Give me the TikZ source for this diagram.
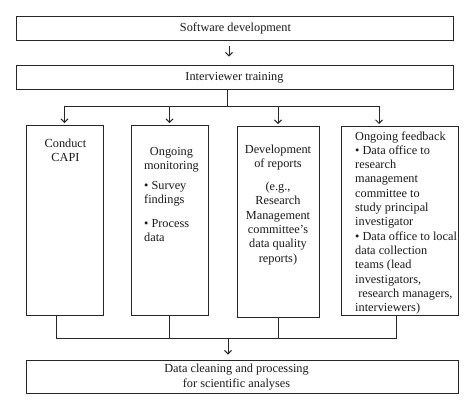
\documentclass[tikz,border=0pt]{standalone}
\usepackage{fontspec}
\setmainfont{Liberation Serif}
\usetikzlibrary{arrows.meta}
\begin{document}
\begin{tikzpicture}[x=1pt,y=-1pt,
  box/.style={draw=black!85, line width=1pt, rectangle, inner sep=0pt},
  ln/.style={draw=black!85, line width=1pt},
  arr/.style={ln, -{Straight Barb[length=3.5pt,width=7pt]}},
  txt/.style={inner sep=0pt, anchor=base, text=black!90, font=\fontsize{12.3}{14.3}\selectfont}]
\useasboundingbox (0,0) rectangle (474,410);
% boxes
\node[box, minimum width=437pt, minimum height=24pt] (sw) at (234.5,28) {};
\node[box, minimum width=437pt, minimum height=24pt] (it) at (234.5,77) {};
\node[box, minimum width=77pt, minimum height=190pt] (b1) at (64.5,220) {};
\node[box, minimum width=77pt, minimum height=190pt] (b2) at (169.5,220) {};
\node[box, minimum width=82pt, minimum height=191pt] (b3) at (278,221.5) {};
\node[box, minimum width=117pt, minimum height=189pt] (b4) at (399.5,220.5) {};
\node[box, minimum width=432pt, minimum height=33pt] (dc) at (242,376.5) {};
% texts
\node[txt] (tsw) at (235.5,31.5) {Software development};
\node[txt] (tit) at (234.5,80) {Interviewer training};
\node[txt] (t1) at (65.5,147) {\begin{tabular}[t]{@{}c@{}}Conduct\\CAPI\end{tabular}};
\node[txt] (t2) at (171.5,155) {\begin{tabular}[t]{@{}l@{}}\multicolumn{1}{@{}c@{}}{Ongoing}\\monitoring\\[6pt]• Survey\\findings\\[9pt]• Process\\data\end{tabular}};
\node[txt] (t3) at (278,153) {\begin{tabular}[t]{@{}c@{}}Development\\of reports\\[9pt](e.g.,\\Research\\Management\\committee’s\\data quality\\reports)\end{tabular}};
\node[txt, anchor=base west] (t4) at (355,140) {\begin{tabular}[t]{@{}l@{}}Ongoing feedback\\• Data office to\\research\\management\\committee to\\study principal\\investigator\\• Data office to local\\data collection\\teams (lead\\investigators,\\\ research managers,\\interviewers)\end{tabular}};
\node[txt] (tdc) at (236.5,372.7) {\begin{tabular}[t]{@{}c@{}}Data cleaning and processing\\for scientific analyses\end{tabular}};
% connectors
\draw[arr, shorten <=5pt, shorten >=8pt] ([xshift=-5.5pt]sw.south) -- ([xshift=-5.5pt]it.north);
\coordinate (bus) at (227,106);
\coordinate (itout) at ([xshift=-7.5pt]it.south);
\coordinate (b4in) at ([xshift=-20.5pt]b4.north);
\draw[ln] (itout) -- (bus);
\draw[ln] (b1.north |- bus) -- (b4in |- bus);
\draw[arr, shorten >=1.5pt] (b1.north |- bus) -- (b1.north);
\draw[arr, shorten >=1.5pt] (b2.north |- bus) -- (b2.north);
\draw[arr, shorten >=1.5pt] (b3.north |- bus) -- (b3.north);
\draw[arr, shorten >=1.5pt] (b4in |- bus) -- (b4in);
\coordinate (bbus) at (228,338);
\coordinate (b1o) at ([xshift=-8.5pt]b1.south);
\coordinate (b4o) at ([xshift=-3.5pt]b4.south);
\draw[ln] (b1o) -- (b1o |- bbus) -- (b4o |- bbus) -- (b4o);
\draw[ln] (b2.south) -- (b2.south |- bbus);
\draw[ln] (b3.south) -- (b3.south |- bbus);
\draw[arr, shorten >=5pt] (bbus) -- (bbus |- dc.north);
\end{tikzpicture}
\end{document}
